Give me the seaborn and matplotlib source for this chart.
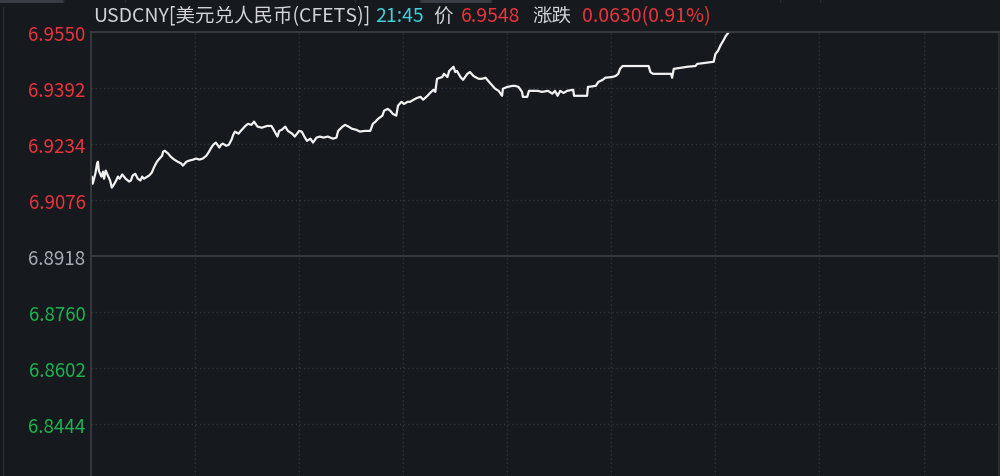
import pandas as pd
import matplotlib.pyplot as plt
import seaborn as sns

# minutes after 09:30, USDCNY (CFETS) intraday price
minutes = [1, 2, 5, 7, 8, 9, 12, 14, 15, 17, 20, 22, 24, 27, 29, 31, 33, 36, 38, 40,
           44, 46, 48, 51, 54, 57, 59, 61, 65, 67, 70, 73, 76, 78, 82, 83, 85, 89, 92, 96,
           100, 104, 106, 110, 113, 118, 121, 125, 129, 133, 136, 138, 141, 144, 148, 150, 152, 156, 159, 162,
           164, 166, 170, 172, 175, 178, 181, 185, 188, 192, 197, 203, 208, 210, 215, 217, 220, 224, 227, 232,
           235, 240, 243, 246, 249, 253, 256, 260, 264, 268, 273, 279, 283, 285, 290, 293, 297, 301, 306, 310,
           316, 322, 325, 328, 331, 336, 338, 342, 345, 348, 352, 354, 358, 361, 365, 368, 372, 376, 380, 383,
           388, 391, 395, 397, 399, 405, 407, 411, 413, 418, 420, 422, 426, 429, 434, 437, 441, 443, 447, 451,
           455, 458, 463, 466, 470, 474, 475, 480, 486, 489, 493, 497, 498, 503, 505, 515, 520, 527, 532, 535,
           538, 541, 545, 549, 556, 557, 572, 573, 582, 585, 590, 593, 601, 605, 608, 610, 613, 643, 645, 648,
           669, 670, 672, 688, 697, 699, 718, 720, 723, 726, 729, 732, 735]
prices = [6.9142, 6.9122, 6.9150, 6.9179, 6.9184, 6.9159, 6.9142, 6.9156, 6.9136, 6.9159,
          6.9142, 6.9131, 6.9111, 6.9122, 6.9131, 6.9142, 6.9136, 6.9148, 6.9142, 6.9136,
          6.9128, 6.9131, 6.9145, 6.9150, 6.9136, 6.9131, 6.9142, 6.9136, 6.9142, 6.9145,
          6.9153, 6.9170, 6.9184, 6.9190, 6.9201, 6.9212, 6.9215, 6.9207, 6.9198, 6.9190,
          6.9184, 6.9179, 6.9173, 6.9184, 6.9187, 6.9190, 6.9193, 6.9190, 6.9193, 6.9201,
          6.9212, 6.9221, 6.9232, 6.9238, 6.9224, 6.9232, 6.9235, 6.9229, 6.9232, 6.9246,
          6.9260, 6.9269, 6.9263, 6.9269, 6.9277, 6.9285, 6.9291, 6.9288, 6.9297, 6.9283,
          6.9280, 6.9285, 6.9285, 6.9277, 6.9255, 6.9271, 6.9274, 6.9283, 6.9271, 6.9263,
          6.9255, 6.9271, 6.9269, 6.9255, 6.9243, 6.9249, 6.9238, 6.9252, 6.9255, 6.9252,
          6.9255, 6.9249, 6.9252, 6.9271, 6.9283, 6.9288, 6.9283, 6.9277, 6.9274, 6.9269,
          6.9271, 6.9271, 6.9291, 6.9297, 6.9305, 6.9314, 6.9328, 6.9333, 6.9328, 6.9319,
          6.9314, 6.9342, 6.9353, 6.9347, 6.9353, 6.9353, 6.9359, 6.9364, 6.9367, 6.9359,
          6.9370, 6.9378, 6.9387, 6.9381, 6.9418, 6.9423, 6.9432, 6.9423, 6.9440, 6.9452,
          6.9437, 6.9440, 6.9423, 6.9415, 6.9432, 6.9437, 6.9426, 6.9423, 6.9418, 6.9418,
          6.9421, 6.9412, 6.9398, 6.9390, 6.9384, 6.9370, 6.9390, 6.9395, 6.9398, 6.9398,
          6.9395, 6.9381, 6.9367, 6.9367, 6.9384, 6.9384, 6.9381, 6.9384, 6.9376, 6.9384,
          6.9370, 6.9384, 6.9378, 6.9384, 6.9387, 6.9370, 6.9370, 6.9395, 6.9398, 6.9409,
          6.9415, 6.9421, 6.9423, 6.9426, 6.9432, 6.9446, 6.9454, 6.9454, 6.9437, 6.9432,
          6.9432, 6.9421, 6.9446, 6.9452, 6.9454, 6.9460, 6.9466, 6.9488, 6.9497, 6.9513,
          6.9525, 6.9539, 6.9548]

y_ticks = [6.9550, 6.9392, 6.9234, 6.9076, 6.8918, 6.8760, 6.8602, 6.8444]
y_labels = ['6.9550', '6.9392', '6.9234', '6.9076', '6.8918', '6.8760', '6.8602', '6.8444']
prev_close = 6.8918

df = pd.DataFrame({'minute': minutes, 'price': prices})

sns.set_theme(style='dark')
plt.rcParams['font.family'] = ['Noto Sans CJK SC', 'DejaVu Sans']

bg = '#16191e'
red = '#e8343c'
green = '#1db34f'
grey = '#a6acb3'

fig = plt.figure(figsize=(10, 4.77), dpi=100, facecolor=bg)
ax = fig.add_axes([0.091, 0.0, 0.908, 1 - 33 / 477])
ax.set_facecolor(bg)

sns.lineplot(data=df, x='minute', y='price', ax=ax, color='#f2f2f2', linewidth=1.6)

# scale: 224 px between 6.9550 and 6.8918
span = 6.9550 - prev_close
ax.set_ylim(prev_close - span * (477 - 257) / 224, 6.9550)
ax.set_xlim(0, 1047)

for v in y_ticks[1:]:
    if v == prev_close:
        ax.axhline(v, color='#3a3d44', lw=1.3, zorder=0)
    else:
        ax.axhline(v, color='#31343b', lw=1.0, ls=(0, (1, 2)), zorder=0)
for m in range(120, 1047, 120):
    ax.axvline(m, color='#31343b', lw=1.0, ls=(0, (1, 2)), zorder=0)

ax.set_yticks(y_ticks)
ax.set_yticklabels(y_labels)
ax.set_xticks([])
ax.tick_params(axis='y', length=0, pad=4, labelsize=13.5)
for lab, v in zip(ax.get_yticklabels(), y_ticks):
    lab.set_color(red if v > prev_close else (grey if v == prev_close else green))
ax.set_xlabel('')
ax.set_ylabel('')
ax.grid(False)

ax.spines['bottom'].set_visible(False)
ax.spines['left'].set_color('#3a3d44')
ax.spines['top'].set_color('#3a3d44')
ax.spines['right'].set_color('#2c2f35')
ax.spines['top'].set_linewidth(1.3)

# header
hy = 1 - 17 / 477
fig.text(0.093, hy, 'USDCNY[美元兑人民币(CFETS)]', color='#d2d4d8', fontsize=14, va='center')
fig.text(0.375, hy, '21:45', color='#3fd0dc', fontsize=14, va='center')
fig.text(0.433, hy, '价', color='#d2d4d8', fontsize=14, va='center')
fig.text(0.461, hy, '6.9548', color=red, fontsize=14, va='center')
fig.text(0.532, hy, '涨跌', color='#d2d4d8', fontsize=14, va='center')
fig.text(0.582, hy, '0.0630(0.91%)', color=red, fontsize=14, va='center')

# top tab strip and left frame line
strip = fig.add_axes([0, 1 - 4 / 477, 1, 4 / 477])
strip.set_facecolor('#0f1114')
strip.set_xlim(0, 1000)
strip.set_ylim(0, 1)
strip.axvspan(0, 63, color='#3a3d43')
strip.axvspan(420, 491, color='#3a3d43')
for xs in [63, 125, 355, 420, 491, 780, 820]:
    strip.axvline(xs, color='#2a2d33', lw=1)
strip.axis('off')
fig.add_artist(plt.Line2D([0.003, 0.003], [0, 1 - 8 / 477], color='#2a2d33', lw=1))

plt.savefig('out.png', dpi=100, facecolor=bg)
